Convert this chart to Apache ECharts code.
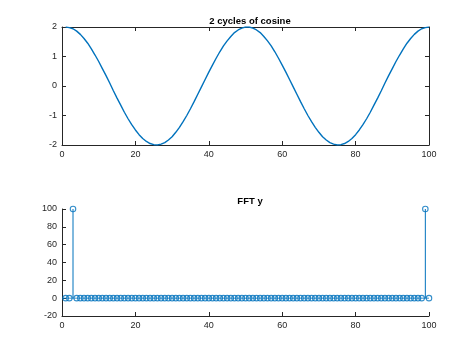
<!DOCTYPE html>
<html>
<head>
<meta charset="utf-8">
<script src="https://cdn.jsdelivr.net/npm/echarts@6/dist/echarts.min.js"></script>
<style>html,body{margin:0;padding:0;background:#fff}#c{width:474px;height:354px}</style>
</head>
<body>
<div id="c"></div>
<script>
// Top plot: cosine samples at x = 1..100
var cosineY = [2.00,1.98,1.94,1.86,1.75,1.61,1.45,1.26,1.05,0.83,0.59,0.35,0.10,-0.16,-0.41,-0.65,-0.89,-1.11,-1.31,-1.49,-1.65,-1.78,-1.88,-1.95,-1.99,-2.00,-1.97,-1.92,-1.83,-1.72,-1.57,-1.40,-1.21,-1.00,-0.77,-0.53,-0.28,-0.03,0.22,0.47,0.71,0.94,1.16,1.36,1.53,1.68,1.81,1.90,1.96,2.00,
               2.00,1.96,1.90,1.81,1.68,1.53,1.36,1.16,0.94,0.71,0.47,0.22,-0.03,-0.28,-0.53,-0.77,-1.00,-1.21,-1.40,-1.57,-1.72,-1.83,-1.92,-1.97,-2.00,-1.99,-1.95,-1.88,-1.78,-1.65,-1.49,-1.31,-1.11,-0.89,-0.65,-0.41,-0.16,0.10,0.35,0.59,0.83,1.05,1.26,1.45,1.61,1.75,1.86,1.94,1.98,2.00];
// Bottom plot: |FFT| at x = 1..100
var fftY = [0,0,100,0,0,0,0,0,0,0,0,0,0,0,0,0,0,0,0,0,0,0,0,0,0,0,0,0,0,0,0,0,0,0,0,0,0,0,0,0,0,0,0,0,0,0,0,0,0,0,
            0,0,0,0,0,0,0,0,0,0,0,0,0,0,0,0,0,0,0,0,0,0,0,0,0,0,0,0,0,0,0,0,0,0,0,0,0,0,0,0,0,0,0,0,0,0,0,0,100,0];
var titles = ['2 cycles of cosine', 'FFT y'];
var xTicks = [0, 100, 20];
var yTop = [-2, 2, 1];
var yBottom = [-20, 100, 20];

var blue = '#0072BD';
var axisCol = '#262626';
var font = 'Liberation Sans, Arial, Helvetica, sans-serif';

function pairs(arr){ return arr.map(function(v,i){ return [i+1, v]; }); }

function xAx(grid, pos, show){
  return {type:'value', gridIndex:grid, position:pos, min:xTicks[0], max:xTicks[1], interval:xTicks[2],
    axisLine:{show:true, onZero:false, lineStyle:{color:axisCol, width:1}},
    axisTick:{show:true, inside:true, length:4, lineStyle:{color:axisCol}},
    axisLabel:{show:show, color:axisCol, fontSize:9, fontFamily:font, margin:5},
    splitLine:{show:false}};
}
function yAx(grid, pos, show, r){
  return {type:'value', gridIndex:grid, position:pos, min:r[0], max:r[1], interval:r[2],
    axisLine:{show:true, onZero:false, lineStyle:{color:axisCol, width:1}},
    axisTick:{show:true, inside:true, length:4, lineStyle:{color:axisCol}},
    axisLabel:{show:show, color:axisCol, fontSize:9, fontFamily:font, margin:5},
    splitLine:{show:false}};
}

var fftPairs = pairs(fftY);
var chart = echarts.init(document.getElementById('c'), null, {renderer:'canvas'});
chart.setOption({
  animation:false,
  backgroundColor:'#fff',
  title:[
    {text:titles[0], left:245, top:11, textAlign:'center', textStyle:{fontSize:9.5, fontWeight:'bold', color:'#000', fontFamily:font}},
    {text:titles[1], left:245, top:191, textAlign:'center', textStyle:{fontSize:9.5, fontWeight:'bold', color:'#000', fontFamily:font}}
  ],
  grid:[
    {left:62, top:27, width:367, height:118},
    {left:62, top:209, width:367, height:107}
  ],
  xAxis:[xAx(0,'bottom',true), xAx(0,'top',false), xAx(1,'bottom',true)],
  yAxis:[yAx(0,'left',true,yTop), yAx(0,'right',false,yTop), yAx(1,'left',true,yBottom)],
  series:[
    {type:'line', xAxisIndex:0, yAxisIndex:0, data:pairs(cosineY), showSymbol:false,
     lineStyle:{color:blue, width:1.4}, itemStyle:{color:blue}},
    {type:'custom', xAxisIndex:2, yAxisIndex:2, data:fftPairs,
     renderItem:function(params, api){
       var x = api.value(0), y = api.value(1);
       var p0 = api.coord([x, 0]), p1 = api.coord([x, y]);
       return {type:'line', shape:{x1:p0[0], y1:p0[1], x2:p1[0], y2:p1[1]}, style:{stroke:blue, lineWidth:1}};
     }},
    {type:'line', xAxisIndex:2, yAxisIndex:2, data:[[xTicks[0],0],[xTicks[1],0]], showSymbol:false,
     lineStyle:{color:blue, width:0.8}},
    {type:'scatter', xAxisIndex:2, yAxisIndex:2, data:fftPairs, symbol:'circle', symbolSize:5.5,
     itemStyle:{color:'rgba(255,255,255,0)', borderColor:blue, borderWidth:1.1}}
  ]
});
</script>
</body>
</html>
